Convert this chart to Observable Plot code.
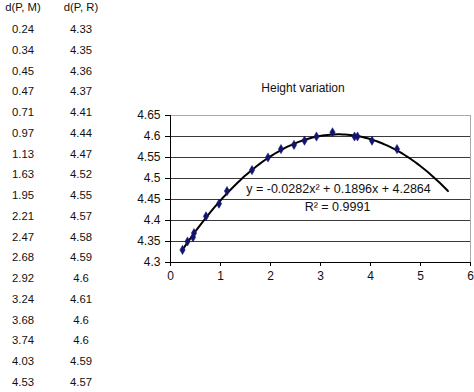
<!DOCTYPE html>
<html><head><meta charset="utf-8">
<script src="https://cdn.jsdelivr.net/npm/d3@7"></script>
<script src="https://cdn.jsdelivr.net/npm/@observablehq/plot@0.6"></script>
<style>
body{margin:0;background:#fff;font-family:"Liberation Sans",Arial,sans-serif;color:#111;}
#wrap{position:relative;width:474px;height:392px;overflow:hidden;background:#fff;}
#wrap svg{position:absolute;left:0;top:0;}
.cell{position:absolute;width:60px;text-align:center;font-size:11.3px;line-height:14px;white-space:nowrap;}
#title{position:absolute;left:203px;width:200px;top:81px;text-align:center;font-size:12px;line-height:14px;}
</style>
</head><body>
<div id="wrap"><div id="title">Height variation</div></div>
<script>
// ----- data -----
const headers = ["d(P, M)", "d(P, R)"];
const dPM = [0.24,0.34,0.45,0.47,0.71,0.97,1.13,1.63,1.95,2.21,2.47,2.68,2.92,3.24,3.68,3.74,4.03,4.53];
const dPR = [4.33,4.35,4.36,4.37,4.41,4.44,4.47,4.52,4.55,4.57,4.58,4.59,4.6,4.61,4.6,4.6,4.59,4.57];
const trendCoef = [-0.0282, 0.1896, 4.2864]; // a x^2 + b x + c (Excel trendline)
const trendRange = [0.24, 5.55];
const xTicks = [0,1,2,3,4,5,6];
const yTicks = [4.3,4.35,4.4,4.45,4.5,4.55,4.6,4.65];
const eqLabel = "y = -0.0282x² + 0.1896x + 4.2864";
const r2Label = "R² = 0.9991";

const wrap = document.getElementById("wrap");

// ----- table -----
const colCenters = [23, 81];
function addCell(text, cx, cy){
  const d = document.createElement("div");
  d.className = "cell";
  d.textContent = text;
  d.style.left = (cx - 30) + "px";
  d.style.top = (cy - 7) + "px";
  wrap.appendChild(d);
}
headers.forEach((h,j)=>addCell(h, colCenters[j], 7));
dPM.forEach((v,i)=>{
  addCell(String(v), colCenters[0], 29 + i*20.75);
  addCell(String(dPR[i]), colCenters[1], 29 + i*20.75);
});

// ----- chart -----
const points = dPM.map((x,i)=>({x, y: dPR[i]}));
const trend = d3.range(trendRange[0], trendRange[1] + 1e-9, 0.05).concat([trendRange[1]])
  .map(x=>({x, y: trendCoef[0]*x*x + trendCoef[1]*x + trendCoef[2]}));
const fmt = d => String(+d.toFixed(2));
const yMax = d3.max(yTicks);

const chart = Plot.plot({
  width: 474, height: 392,
  marginLeft: 170, marginRight: 4, marginTop: 115, marginBottom: 130,
  style: {fontFamily: "Liberation Sans, Arial, sans-serif", fontSize: "12px", background: "transparent", overflow: "visible", color: "#111"},
  x: {domain: [0, 6]},
  y: {domain: [4.3, 4.65]},
  marks: [
    Plot.gridY(yTicks.filter(t => t < yMax), {stroke: "#3a3a3a", strokeOpacity: 1}),
    Plot.gridY([yMax], {stroke: "#aaa", strokeOpacity: 1}),
    Plot.ruleX([6], {stroke: "#aaa"}),
    Plot.ruleX([0], {stroke: "#000"}),
    Plot.ruleY([4.3], {stroke: "#000"}),
    Plot.axisX({ticks: xTicks, tickSize: 4, tickPadding: 5, tickFormat: fmt, label: null, stroke: "#000", fontSize: 12}),
    Plot.axisY({ticks: yTicks, tickSize: 5, tickPadding: 5, tickFormat: fmt, label: null, stroke: "#000", fontSize: 12}),
    Plot.line(trend, {x: "x", y: "y", stroke: "#000", strokeWidth: 2, curve: "linear"}),
    Plot.dot(points, {x: "x", y: "y", symbol: "diamond", r: 2.8, fill: "#14146e", stroke: "#14146e", strokeWidth: 0.5}),
    Plot.text([eqLabel], {x: 3.36, y: 4.474, text: d => d, fontSize: 12.5, fill: "#111"}),
    Plot.text([r2Label], {x: 3.34, y: 4.433, text: d => d, fontSize: 12.5, fill: "#111"})
  ]
});
wrap.insertBefore(chart, wrap.firstChild);
</script>
</body></html>
